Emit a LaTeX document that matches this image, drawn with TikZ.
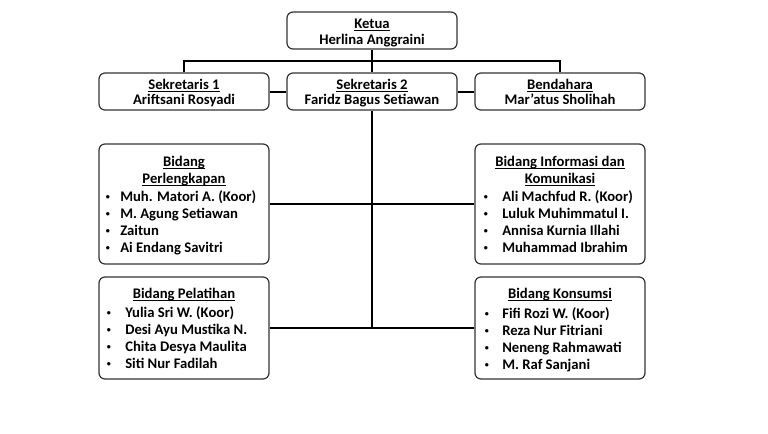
\documentclass[tikz,border=0pt]{standalone}
\usepackage{fontspec}
\setmainfont{Carlito}
\newcommand\uln[1]{\underline{\smash{#1}}}
\newcommand\bul{\hspace{1.2pt}\raisebox{1.3pt}{\scalebox{0.55}{\textbullet}}}
\tikzset{
 box/.style={draw=black!80, line width=0.9pt, rounded corners=4.5pt, fill=white, minimum width=127.5pt, inner sep=0},
 tbox/.style={box, minimum height=27.75pt},
 bbox/.style={box, minimum height=90pt},
 cbox/.style={box, minimum height=76.5pt},
 txt/.style={inner sep=0, anchor=base, text=black, font=\bfseries\fontsize{11}{12.75}\selectfont},
 lst/.style={inner sep=0, anchor=base west, text=black, font=\bfseries\fontsize{11}{12.75}\selectfont},
 conn/.style={line width=1.5pt, draw=black},
}
\begin{document}
\begin{tikzpicture}[x=0.75pt,y=-0.75pt]
\useasboundingbox (0,0) rectangle (768,433);
% boxes
\node[tbox] (ketua) at (372,30.5) {};
\node[tbox] (s1) at (184,91.5) {};
\node[tbox] (s2) at (372,91.5) {};
\node[tbox] (bend) at (560,91.5) {};
\node[bbox] (perl) at (184,204) {};
\node[bbox] (info) at (560,204) {};
\node[cbox] (pel) at (184,328) {};
\node[cbox] (kons) at (560,328) {};
% connectors
\coordinate (hy) at (372,61);
\coordinate (vend) at (372,328);
\draw[conn] (ketua.south) -- (s2.north);
\draw[conn] (s1.north) |- (hy) -| (bend.north);
\draw[conn] (s1.east) -- (s2.west);
\draw[conn] (s2.east) -- (bend.west);
\draw[conn] (s2.south) -- (vend);
\draw[conn] (perl.east) -- (info.west);
\draw[conn] (pel.east) -- (kons.west);
% texts
\node[txt] (kT1) at (372,28) {\uln{Ketua}};
\node[txt] (kT2) at (372,44) {Herlina Anggraini};
\node[txt] (s1T1) at (184,89) {\uln{Sekretaris 1}};
\node[txt] (s1T2) at (184,104.5) {Ariftsani Rosyadi};
\node[txt] (s2T1) at (372,89) {\uln{Sekretaris 2}};
\node[txt] (s2T2) at (372,104.5) {Faridz Bagus Setiawan};
\node[txt] (bT1) at (560,89) {\uln{Bendahara}};
\node[txt] (bT2) at (560,104.5) {Mar’atus Sholihah};
\node[txt] (perlH1) at (184,166) {\uln{Bidang}};
\node[txt] (perlH2) at (184,183) {\uln{Perlengkapan}};
\node[lst] (perlL) at (104,201) {\begin{tabular}[t]{@{}p{12pt}@{}l@{}}
\bul & Muh. Matori A. (Koor)\\
\bul & M. Agung Setiawan\\
\bul & Zaitun\\
\bul & Ai Endang Savitri
\end{tabular}};
\node[txt] (infoH1) at (560,166) {\uln{Bidang Informasi dan}};
\node[txt] (infoH2) at (560,183) {\uln{Komunikasi}};
\node[lst] (infoL) at (482,201) {\begin{tabular}[t]{@{}p{15pt}@{}l@{}}
\bul & Ali Machfud R. (Koor)\\
\bul & Luluk Muhimmatul I.\\
\bul & Annisa Kurnia Illahi\\
\bul & Muhammad Ibrahim
\end{tabular}};
\node[txt] (pelH) at (184,298) {\uln{Bidang Pelatihan}};
\node[lst] (pelL) at (105,317) {\begin{tabular}[t]{@{}p{15pt}@{}l@{}}
\bul & Yulia Sri W. (Koor)\\
\bul & Desi Ayu Mustika N.\\
\bul & Chita Desya Maulita\\
\bul & Siti Nur Fadilah
\end{tabular}};
\node[txt] (konsH) at (560,298) {\uln{Bidang Konsumsi}};
\node[lst] (konsL) at (483,318) {\begin{tabular}[t]{@{}p{14.25pt}@{}l@{}}
\bul & Fifi Rozi W. (Koor)\\
\bul & Reza Nur Fitriani\\
\bul & Neneng Rahmawati\\
\bul & M. Raf Sanjani
\end{tabular}};
\end{tikzpicture}
\end{document}
